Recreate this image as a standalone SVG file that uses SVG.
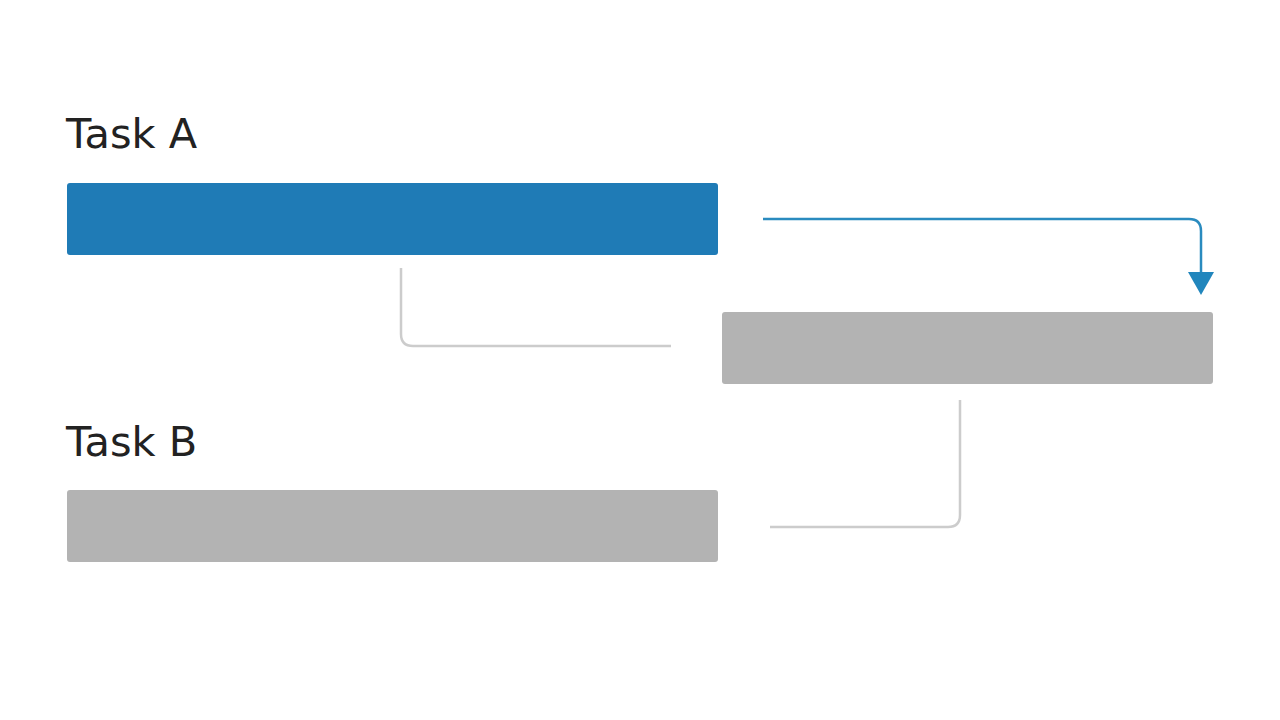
<svg xmlns="http://www.w3.org/2000/svg" width="1280" height="720" viewBox="0 0 1280 720">
<style>
.lbl{font-family:"DejaVu Sans","Liberation Sans",Arial,sans-serif;font-size:41.5px;fill:#222222}
.blue{fill:#1f7bb6}
.gray{fill:#b3b3b3}
.dep{fill:none;stroke:#cccccc;stroke-width:2.5}
.crit{fill:none;stroke:#2a8bbf;stroke-width:2.5}
</style>
<rect width="1280" height="720" fill="#ffffff"/>
<g id="taskA">
<text class="lbl" x="66" y="148">Task A</text>
<rect class="blue" x="67" y="183" width="651" height="72" rx="3"/>
</g>
<g id="taskMid">
<rect class="gray" x="722" y="312" width="491" height="72" rx="3"/>
</g>
<g id="taskB">
<text class="lbl" x="66" y="456">Task B</text>
<rect class="gray" x="67" y="490" width="651" height="72" rx="3"/>
</g>
<g id="connectors">
<path class="crit" d="M763 219 H1189 Q1201 219 1201 231 V274"/>
<polygon points="1188,272 1214,272 1201,295" fill="#2186bd"/>
<path class="dep" d="M401 268 V334 Q401 346 413 346 H671"/>
<path class="dep" d="M960 400 V515 Q960 527 948 527 H770"/>
</g>
</svg>
